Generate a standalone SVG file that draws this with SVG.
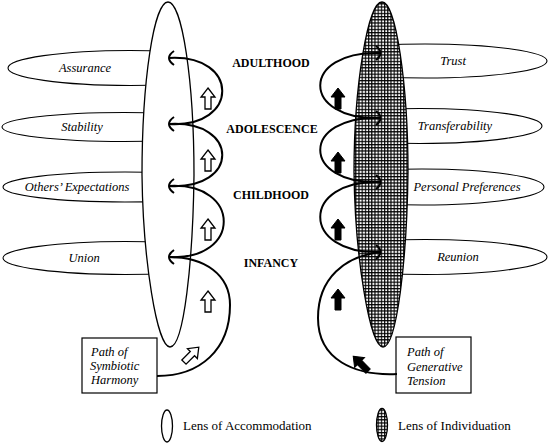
<svg xmlns="http://www.w3.org/2000/svg" xmlns:xlink="http://www.w3.org/1999/xlink" width="550" height="445" viewBox="0 0 550 445">
<style>
.ell{fill:#fff;stroke:#000;stroke-width:1.1}
.lens{stroke:#000;stroke-width:1.3}
.lab{font-family:"Liberation Serif",serif;font-style:italic;font-size:12.5px;fill:#000}
.stage{font-family:"Liberation Serif",serif;font-weight:bold;font-size:12px;fill:#000;text-anchor:middle}
.leg{font-family:"Liberation Serif",serif;font-size:13px;fill:#000}
.box{fill:#fff;stroke:#000;stroke-width:1.2}
.loop{fill:none;stroke:#000;stroke-width:2}
.open{fill:#fff;stroke:#000;stroke-width:1.3}
.solid{fill:#000;stroke:#000;stroke-width:1}
</style>
<defs>
<pattern id="grid" width="3.2" height="3.2" patternUnits="userSpaceOnUse">
<rect width="3.2" height="3.2" fill="#fff"/>
<path d="M0,0.6H3.2M0.6,0V3.2" stroke="#000" stroke-width="1.15"/>
</pattern>
<clipPath id="clipL"><rect x="0" y="0" width="168" height="445"/></clipPath>
<clipPath id="clipR"><rect x="382" y="0" width="168" height="445"/></clipPath>
<path id="blk" d="M0,-11 L7,-2 L3,-2 L3,10 L-3,10 L-3,-2 L-7,-2 Z"/>
</defs>

<g id="assurance"><ellipse class="ell" cx="130" cy="68" rx="122" ry="17.5" clip-path="url(#clipL)"/><text class="lab" x="85" y="72" text-anchor="middle">Assurance</text></g>
<g id="stability"><ellipse class="ell" cx="124" cy="127" rx="122" ry="14.5" clip-path="url(#clipL)"/><text class="lab" x="82" y="131" text-anchor="middle">Stability</text></g>
<g id="others-expectations"><ellipse class="ell" cx="125" cy="187" rx="122" ry="15" clip-path="url(#clipL)"/><text class="lab" x="77" y="191" text-anchor="middle">Others’ Expectations</text></g>
<g id="union"><ellipse class="ell" cx="125" cy="258" rx="122" ry="16.5" clip-path="url(#clipL)"/><text class="lab" x="84" y="262" text-anchor="middle">Union</text></g>

<g id="trust"><ellipse class="ell" cx="425" cy="61" rx="122" ry="17" clip-path="url(#clipR)"/><text class="lab" x="453" y="65" text-anchor="middle">Trust</text></g>
<g id="transferability"><ellipse class="ell" cx="420" cy="126" rx="122" ry="17.5" clip-path="url(#clipR)"/><text class="lab" x="455" y="130" text-anchor="middle">Transferability</text></g>
<g id="personal-preferences"><ellipse class="ell" cx="422" cy="187" rx="122" ry="18" clip-path="url(#clipR)"/><text class="lab" x="467" y="191" text-anchor="middle">Personal Preferences</text></g>
<g id="reunion"><ellipse class="ell" cx="425" cy="257" rx="122" ry="17.5" clip-path="url(#clipR)"/><text class="lab" x="458" y="261" text-anchor="middle">Reunion</text></g>

<g id="lens-accommodation"><path class="lens" fill="#fff" d="M168,2 C182,2 194,80 194,175 C193,260 184,347 170,347 C157,347 143,260 142,175 C142,80 154,2 168,2 Z"/></g>
<g id="lens-individuation"><path class="lens" fill="url(#grid)" d="M382,2 C396,2 408,85 408,172 C407,258 397,347 383,347 C370,347 355,258 354,172 C354,85 368,2 382,2 Z"/></g>

<g id="stages">
<text class="stage" x="271" y="67">ADULTHOOD</text>
<text class="stage" x="272" y="133">ADOLESCENCE</text>
<text class="stage" x="271" y="199">CHILDHOOD</text>
<text class="stage" x="271" y="267">INFANCY</text>
</g>

<g id="box-symbiotic"><rect class="box" x="82" y="338" width="75" height="55"/>
<text class="lab" x="91" y="356">Path of</text><text class="lab" x="90" y="370">Symbiotic</text><text class="lab" x="91" y="384">Harmony</text></g>
<g id="box-generative"><rect class="box" x="396" y="337" width="75" height="56"/>
<text class="lab" x="407" y="356">Path of</text><text class="lab" x="407" y="371">Generative</text><text class="lab" x="407" y="385">Tension</text></g>

<g id="connectors">
<path class="loop" d="M157,376 C200,376 230,350 230,305 C230,275 205,257 169,257"/>
<path class="loop" d="M169,257 C242,261 242,182 169,186"/>
<path class="loop" d="M169,186 C240,190 240,120 169,124"/>
<path class="loop" d="M169,124 C240,128 240,54 169,58"/>
<path class="loop" d="M174,51 Q164,58 174,65"/>
<path class="loop" d="M174,117 Q164,124 174,131"/>
<path class="loop" d="M174,179 Q164,186 174,193"/>
<path class="loop" d="M174,250 Q164,257 174,264"/>

<path class="loop" d="M397,374 C355,376 318,360 318,318 C318,278 345,256 381,252"/>
<path class="loop" d="M381,252 C300,255 300,179 381,182"/>
<path class="loop" d="M381,182 C300,185 300,115 381,118"/>
<path class="loop" d="M381,118 C300,121 300,50 381,53"/>
<path class="loop" d="M376,46 Q385,53 376,60"/>
<path class="loop" d="M376,111 Q385,118 376,125"/>
<path class="loop" d="M376,175 Q385,182 376,189"/>
<path class="loop" d="M376,245 Q385,252 376,259"/>

<use href="#blk" class="open" transform="translate(208,99)"/>
<use href="#blk" class="open" transform="translate(208,161)"/>
<use href="#blk" class="open" transform="translate(208,230)"/>
<use href="#blk" class="open" transform="translate(208,302)"/>
<use href="#blk" class="open" transform="translate(191,355) rotate(45)"/>
<use href="#blk" class="solid" transform="translate(338,99)"/>
<use href="#blk" class="solid" transform="translate(338,163)"/>
<use href="#blk" class="solid" transform="translate(338,230)"/>
<use href="#blk" class="solid" transform="translate(338,300)"/>
<use href="#blk" class="solid" transform="translate(361,364) rotate(-45)"/>
</g>

<g id="legend-accommodation"><ellipse class="lens" fill="#fff" cx="167" cy="426" rx="5.5" ry="16"/><text class="leg" x="183" y="430">Lens of Accommodation</text></g>
<g id="legend-individuation"><ellipse class="lens" fill="url(#grid)" cx="382" cy="425" rx="5.5" ry="16.5"/><text class="leg" x="398" y="430">Lens of Individuation</text></g>
</svg>
